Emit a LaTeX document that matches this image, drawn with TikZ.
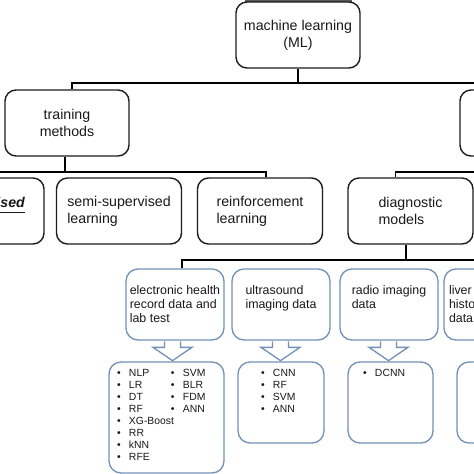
\documentclass[tikz,border=0pt]{standalone}
\usepackage{fontspec}
\setmainfont{Liberation Sans}
\usetikzlibrary{calc}

\definecolor{boxborder}{HTML}{1C1C1C}
\definecolor{boxblue}{HTML}{7391B8}

% bullet item of a list box
\newcommand{\itm}[1]{\makebox[12pt][l]{\textbullet}#1}
% bullet item of the left column of a two-column list
\newcommand{\itmw}[1]{\makebox[54pt][l]{\itm{#1}}}
% hollow block arrow from one box down to the box below it
\newcommand{\fatarrow}[3]{%
  \draw[fatarr] let \p1=([xshift=#3]#1.south), \p2=(#2.north) in
    (\x1-8pt,\y1-0.7pt) -- (\x1-8pt,\y2+14pt) -- (\x1-19.5pt,\y2+14pt)
    -- (\x1,\y2+0.7pt) -- (\x1+19.5pt,\y2+14pt) -- (\x1+8pt,\y2+14pt)
    -- (\x1+8pt,\y1-0.7pt);
}

\begin{document}
\begin{tikzpicture}[x=1pt, y=-1pt,
    topbox/.style={rectangle, rounded corners=11pt, draw=boxborder, line width=1.4pt,
                   fill=white, minimum width=124pt, minimum height=66pt,
                   inner sep=0pt, align=center, text=black!90,
                   font=\fontsize{14.2}{17}\selectfont},
    subbox/.style={topbox, minimum width=125pt, align=left},
    databox/.style={rectangle, rounded corners=12pt, draw=boxblue, line width=1.3pt,
                    fill=white, minimum width=98pt, minimum height=71pt,
                    inner sep=0pt, align=left, text=black!90,
                    font=\fontsize{12.4}{14}\selectfont},
    listbox/.style={databox, inner xsep=0pt, inner ysep=6pt,
                    font=\fontsize{10.4}{12}\selectfont},
    conn/.style={draw=black, line width=1.1pt},
    fatarr/.style={draw=boxblue, line width=1.3pt, fill=white},
]

\useasboundingbox (0,0) rectangle (474,474);
\fill[white] (0,0) rectangle (474,474);
\clip (0,0) rectangle (474,474);

% === Top ===
\fill[black!65] (245,0) rectangle (352,3);
\node[topbox] (ml) at (298,35) {machine learning\\(ML)};

% --- Level 1 ---
\node[topbox] (train) at (67,123) {training\\methods};
\node[topbox] (apps) at (522,123) {};

% --- Level 2 ---
\node[subbox] (sup) at (-18.5,211)
    {\hspace*{12pt}\underline{\textbf{\textit{supervised}}}\\\mbox{}};
\node[subbox] (semi) at (119,211) {semi-supervised\\learning};
\node[subbox] (reinf) at (260,211) {reinforcement\\learning};
\node[subbox] (diag) at (410.5,211) {diagnostic\\models};

% --- Data sources ---
\node[databox] (ehr) at (175,304.5) {electronic health\\record data and\\lab test};
\node[databox] (us) at (281,304.5) {ultrasound\\imaging data\\\mbox{}};
\node[databox] (radio) at (389,304.5) {radio imaging\\data\\\mbox{}};
\node[databox, text width=88pt] (liver) at (493,304.5) {liver\\histopathology\\data};

% --- Method lists ---
\node[listbox, minimum width=115pt, minimum height=111pt] (ehrl) at (166.5,417.5)
    {\parbox[t][99pt][t]{115pt}{%
     \begin{tabular}[t]{@{\hspace{8pt}}l@{}l@{}}
       \itmw{NLP} & \itm{SVM}\\
       \itmw{LR}  & \itm{BLR}\\
       \itmw{DT}  & \itm{FDM}\\
       \itmw{RF}  & \itm{ANN}\\
       \itmw{XG-Boost} & \\
       \itmw{RR}  & \\
       \itmw{kNN} & \\
       \itmw{RFE} &
     \end{tabular}}};
\node[listbox, minimum width=86pt, minimum height=81pt] (usl) at (281,402.5)
    {\parbox[t][69pt][t]{86pt}{%
     \begin{tabular}[t]{@{\hspace{23pt}}l@{}}
       \itm{CNN}\\ \itm{RF}\\ \itm{SVM}\\ \itm{ANN}
     \end{tabular}}};
\node[listbox, minimum width=85pt, minimum height=81pt] (radiol) at (390.5,402.5)
    {\parbox[t][69pt][t]{85pt}{%
     \begin{tabular}[t]{@{\hspace{15pt}}l@{}}
       \itm{DCNN}
     \end{tabular}}};
\node[listbox, minimum width=86pt, minimum height=81pt] (liverl) at (500,402.5) {};

% --- Connections ---
% ML -> level 1
\coordinate (busA) at (474,83);
\draw[conn] (ml.south) -- (ml.south |- busA);
\draw[conn] ([xshift=5pt]train.north) |- (busA);
% training methods -> level 2
\coordinate (busB) at (0,172);
\draw[conn] ([xshift=-2pt]train.south) -- ([xshift=-2pt]train.south |- busB);
\draw[conn] ([xshift=6pt]reinf.north) |- (busB);
% right branch -> diagnostic models
\coordinate (busC) at (474,172);
\draw[conn] ([xshift=-15pt]diag.north) |- (busC);
% diagnostic models -> data sources
\coordinate (busD) at (474,260);
\draw[conn] ([xshift=-4.5pt]diag.south) -- ([xshift=-4.5pt]diag.south |- busD);
\draw[conn] ([xshift=7pt]ehr.north) |- (busD);

% data sources -> lists
\fatarrow{ehr}{ehrl}{-2.5pt}
\fatarrow{us}{usl}{-0.5pt}
\fatarrow{radio}{radiol}{-0.5pt}

\end{tikzpicture}
\end{document}
